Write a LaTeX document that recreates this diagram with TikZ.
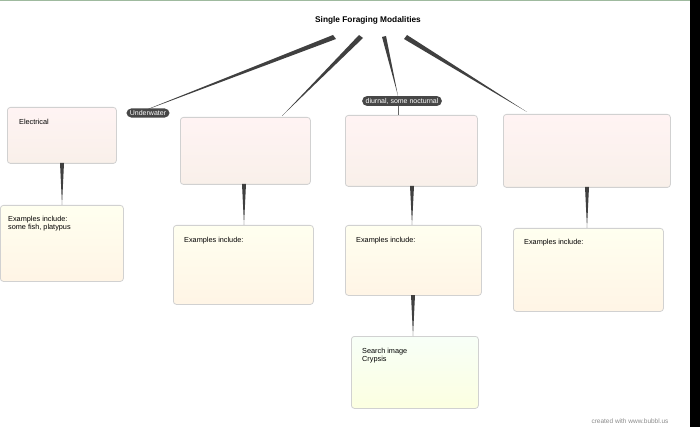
\documentclass[tikz,border=0pt]{standalone}
\usepackage{fontspec}
\setmainfont{Liberation Sans}
\begin{document}
\begin{tikzpicture}[x=1pt,y=-1pt,
  box/.style={draw=black!18,line width=0.8pt,rounded corners=3pt,anchor=north west,inner sep=0pt},
  pinkbox/.style={box,top color=white!70!pink!60,bottom color=pink!30!brown!14},
  creambox/.style={box,top color=yellow!6,bottom color=yellow!18!orange!10},
  greenbox/.style={box,top color=green!3,bottom color=green!10!yellow!12},
  txt/.style={font=\fontsize{7.3}{8.5}\selectfont,align=left,anchor=north west,inner sep=0pt},
  pill/.style={fill=black!72,text=white,rounded corners=5pt,font=\fontsize{7}{8}\selectfont,inner xsep=3.5pt,inner ysep=2pt},
  taper/.style={fill=black!75}]
\useasboundingbox (0,0) rectangle (700,427);
\fill[white] (0,0) rectangle (700,427);
\fill[black] (690,0) rectangle (700,427);
\fill[black!30!green!25!gray!60] (0,0) rectangle (690,1.5);
\node[font=\fontsize{8.3}{10}\selectfont\bfseries] (title) at (368,20) {Single Foraging Modalities};
% boxes
\node[pinkbox,minimum width=109,minimum height=56] (b1) at (7,107) {};
\node[txt] at (19,119) {Electrical};
\node[creambox,minimum width=123,minimum height=76] (e1) at (0,205) {};
\node[txt] at (8,216) {Examples include:\\some fish, platypus};
\node[pinkbox,minimum width=130,minimum height=67] (b2) at (180,117) {};
\node[creambox,minimum width=140,minimum height=79] (e2) at (173,225) {};
\node[txt] at (184,237) {Examples include:};
\node[pinkbox,minimum width=132,minimum height=71] (b3) at (345,115) {};
\node[creambox,minimum width=136,minimum height=70] (e3) at (345,225) {};
\node[txt] at (356,237) {Examples include:};
\node[greenbox,minimum width=127,minimum height=72] (g3) at (351,336) {};
\node[txt] at (362,348) {Search image\\Crypsis};
\node[pinkbox,minimum width=167,minimum height=73] (b4) at (503,114) {};
\node[creambox,minimum width=150,minimum height=83] (e4) at (513,228) {};
\node[txt] at (524,239) {Examples include:};
% tapered connectors
\fill[taper] (333,35) -- (336,39) -- (138,113) -- cycle;
\fill[taper] (359,35) -- (363,38) -- (282,116) -- cycle;
\fill[taper] (382,37) -- (386,36) -- (398,96) -- cycle;
\fill[taper] (404,39) -- (407,35) -- (527,112) -- cycle;
\fill[taper] (60,163) -- (64,163) -- (62,205) -- cycle;
\fill[taper] (242,184) -- (246,184) -- (244,225) -- cycle;
\fill[taper] (410,186) -- (414,186) -- (412,225) -- cycle;
\fill[taper] (411,295) -- (415,295) -- (413,336) -- cycle;
\fill[taper] (585,187) -- (589,187) -- (587,228) -- cycle;
\draw[black!60,line width=0.3pt] (398,106) -- (398,115);
% labels
\node[pill] (l1) at (148,113) {Underwater};
\node[pill] (l2) at (402,101) {diurnal, some nocturnal};
\node[text=black!45,font=\fontsize{6.5}{7}\selectfont,anchor=east] (cr) at (672,421) {created with www.bubbl.us};
\end{tikzpicture}
\end{document}
